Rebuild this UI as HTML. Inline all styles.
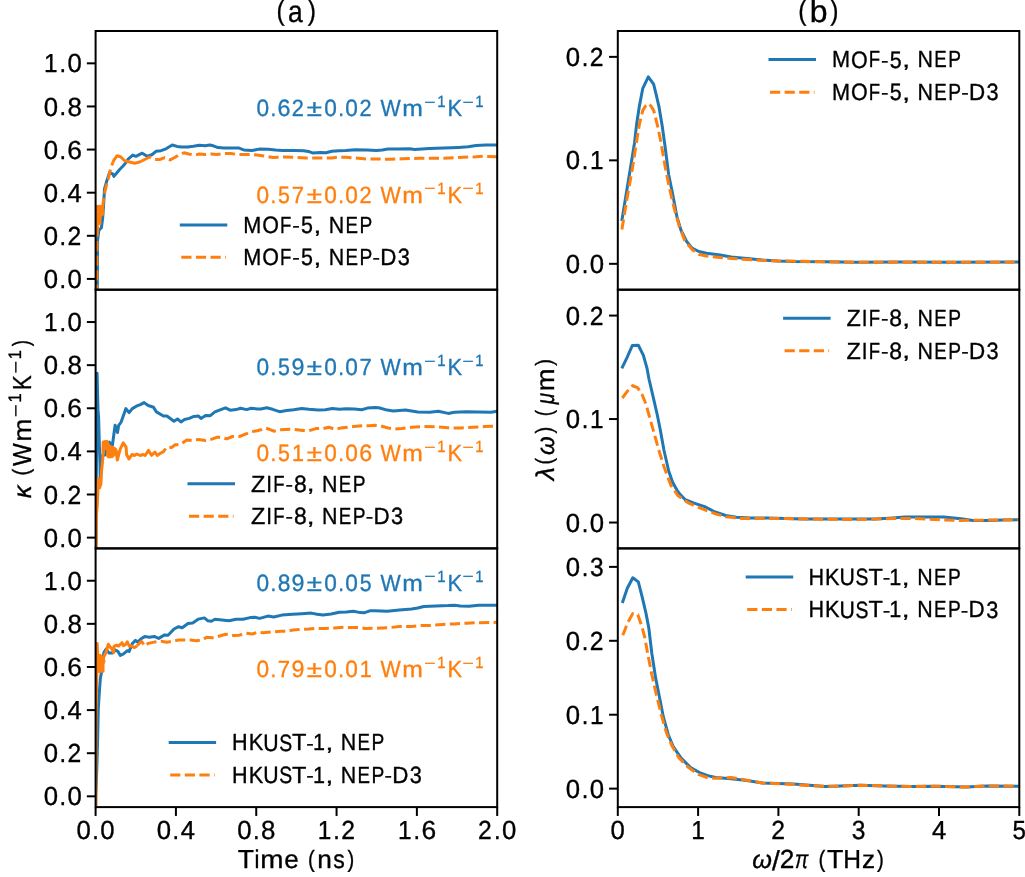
<!DOCTYPE html>
<html><head><meta charset="utf-8"><style>
html,body{margin:0;padding:0;background:#fff;}
body{width:1025px;height:877px;position:relative;overflow:hidden;font-family:"Liberation Sans",sans-serif;}
</style></head><body>
<svg width="1025" height="877" viewBox="0 0 1025 877" style="position:absolute;left:0;top:0;will-change:transform">
<defs>
<clipPath id="cl0"><rect x="95.6" y="31.0" width="401.6" height="258.7"/></clipPath>
<clipPath id="cr0"><rect x="617.8" y="31.0" width="401.5" height="258.7"/></clipPath>
<clipPath id="cl1"><rect x="95.6" y="289.7" width="401.6" height="258.7"/></clipPath>
<clipPath id="cr1"><rect x="617.8" y="289.7" width="401.5" height="258.7"/></clipPath>
<clipPath id="cl2"><rect x="95.6" y="548.4" width="401.6" height="258.7"/></clipPath>
<clipPath id="cr2"><rect x="617.8" y="548.4" width="401.5" height="258.7"/></clipPath>
</defs>
<rect width="1025" height="877" fill="#fff"/>
<g font-family="Liberation Sans, sans-serif" text-rendering="geometricPrecision">
<g clip-path="url(#cl0)">
<polyline points="97.3,295 97.6,240 98.9,230.3 101.4,227.8 102.7,217.8 103.9,200.2 104.5,188.9 107,180.2 109.6,172.6 112.7,173.9 113.9,176.4 116.5,173.3 119.6,169.5 123.3,165.7 125.9,162.6 128.4,158.8 132.8,155.1 135.9,156.3 142.2,153.2 147.2,156.3 152.2,154.5 156,151.3 161,150.7 166,148.8 172.3,145 177,146.4 181.7,147 187.6,147 193.4,146.2 199.3,145.2 205.1,145.8 209.8,145 213.3,145.8 218,147.6 223.9,147.9 230.9,148.1 239.1,148.1 243.8,149.9 252,150.5 259,149.1 268.4,149.3 275.4,150.1 282.4,150.5 294.4,150.5 303.7,150.8 308.4,151.4 313.1,153.1 320.1,152.5 326,152.8 331.8,151.3 338.9,150.8 345.9,150.5 355.3,149.7 367,150.1 376.3,150.5 382.2,149.9 388,149.1 397.4,149 409.8,148.7 414.6,149.5 429.3,148.5 443.9,148 458.5,147.4 468.3,146.8 476.1,145.6 485.9,145.1 497.2,145.1" fill="none" stroke="#1f77b4" stroke-width="3.0" stroke-linejoin="round" stroke-linecap="butt"/>
<polyline points="96.8,295 97,240 97.5,226 103,204.5 103.9,196.5 106.4,185.2 108.9,176.4 110.8,167.6 113,162.28" fill="none" stroke="#ff7f0e" stroke-width="3.0" stroke-linejoin="round" stroke-linecap="butt" stroke-dasharray="10.2 4.4"/>
<polyline points="113,162.28 113.9,160.1 117.1,155.7 120.8,157 124.6,160.7 129.6,162 134.6,163.2 139.6,162 142,160.82" fill="none" stroke="#ff7f0e" stroke-width="3.0" stroke-linejoin="round" stroke-linecap="butt"/>
<polyline points="142,160.82 144.7,159.5 149.7,157 154.7,159.5 159.7,159.5 164.7,157.6 170,159.9 174.7,157.5 179.4,154.6 184,152.8 188.7,154 194.6,155.2 199.3,154 205.1,154.6 211,154 216.8,154.6 223.9,153.4 230.9,153.4 237.9,154.6 244.9,154.6 252,154.6 259,155.2 266,156.3 273,157.5 280.1,157.3 285,156.9 295.5,157.5 306.1,157.9 320.1,158.1 331.8,158.1 337.7,157.2 345.9,157.2 352.9,157.8 361.1,158.5 367,159 378.7,159 390.4,159.3 402,158.8 419.5,158.3 439,158.3 453.7,157.8 468.3,157.1 476.1,156.8 482.9,156.3 497.2,156.8" fill="none" stroke="#ff7f0e" stroke-width="3.0" stroke-linejoin="round" stroke-linecap="butt" stroke-dasharray="10.2 4.4"/>
<polygon points="96.5,205.4 103.7,205.4 103.7,215 101,216 101,224.5 98,225 98,231 96.5,231" fill="#ff7f0e" stroke="#ff7f0e" stroke-width="1" stroke-linejoin="round"/>
</g>
<g clip-path="url(#cr0)">
<polyline points="621.8,221 627.1,188.5 632.4,156 634.5,143 636.7,123.4 639.4,106.1 642.8,88.3 648.3,76.9 653.6,84.2 656.3,95.1 658.9,106.3 662.2,126 664.8,144.5 668.6,174.2 672.8,194.7 676.9,216.6 681,230.3 686.5,241.2 692,248.1 698.8,251.5 706.6,253.3 720,254.9 731.2,256.9 746.8,258.4 762.4,260 778,260.9 793.7,261.4 824.9,261.7 856,262.2 900,262 950,262.2 1019.3,262" fill="none" stroke="#1f77b4" stroke-width="3.0" stroke-linejoin="round" stroke-linecap="butt"/>
<polyline points="621.9,229.5 627.1,198 632.4,168.5 636.7,140.7 639.4,124.3 642.8,110.4 645.5,106 648.3,103.6 651,106 653.8,110.8 657.2,124.3 660.5,140 665.3,167.4 669.4,187.9 674.2,208.4 679.7,227.6 685.1,241.2 692,249.4 698.8,254.2 706,256 720,257.6 731.2,258.4 746.8,259.5 762.4,260.4 778,260.9 856,262.2 1019.3,262.2" fill="none" stroke="#ff7f0e" stroke-width="3.0" stroke-linejoin="round" stroke-linecap="butt" stroke-dasharray="10.2 4.4"/>
</g>
<g clip-path="url(#cl1)">
<polyline points="95.9,560 96.3,480 96.9,400 97.1,373.3 97.6,395 98,409.4 98.6,417 99.3,442.9 100,465 100.2,481 101.2,470 102,455.7 105.2,454.9 106.4,449.3 109.2,442.1 112.4,445.3 114,433.3 115.1,425.3 117.5,432.5 118.7,425.3 121.1,422.1 123.1,416.5 125.9,408.6 129.1,412.6 132.3,408.6 136.3,406.2 140.3,404.6 144.1,402.6 148.2,405.5 153.5,407.2 156.4,411.9 163.4,416 166.9,416 174,421.3 177.5,419 181,421.9 184.5,419.5 189.2,418.4 193.9,416.4 198.5,416 200.9,418.4 205.6,415.4 210.3,415.7 214.9,411.9 220.8,409.6 225.5,407.8 230.2,410.2 236,409.6 240.7,408.2 246.6,409.6 251.2,408.2 257.1,409 260.9,409 266.7,407.8 272.6,409.3 279.6,411.7 286.6,410.5 293.6,409.7 301.8,408.5 308.9,409.3 318.2,410.1 325.3,409.7 332.3,408.5 339.3,409.3 346.3,408.7 354.5,409 361.6,409.7 367.4,408.1 375,407.5 378.7,407.7 387.2,410.1 393.3,411 405.5,410.1 417.7,412 429.9,412.3 438.4,411.3 448.2,413.4 454.3,412.3 466.5,411.7 478.7,412 490.9,412.2 497.2,411.3" fill="none" stroke="#1f77b4" stroke-width="3.0" stroke-linejoin="round" stroke-linecap="butt"/>
<polyline points="95.9,560 96.4,515 97.3,505 97.8,492.7 98.4,478.9 99.6,487.7 100.9,483.9 101.5,471.4 102.8,458.8 103.4,443.8 105,442 106.5,446 108,444 110,447 112,452 114,450 116.3,452.5 117.3,460 120.2,449.1 123.2,442.8 126.1,447.2 126.6,454.5 129,459 132,454.5 134.4,455.5 136.8,454 140.2,455.5 143.2,454.5 145.1,455.5 148.5,450.4 151.5,455.3 154.9,452.1 157.3,455.5 158,454.98" fill="none" stroke="#ff7f0e" stroke-width="3.0" stroke-linejoin="round" stroke-linecap="butt"/>
<polyline points="158,454.98 160,453.5 163.4,451.7 166.9,447.1 171.6,447.6 175.1,444.7 179.8,444.7 186.8,440 192.7,440.6 198.5,439.4 205.6,440.6 212.6,438.9 217.3,437.1 222,437.7 226.7,438.9 232.5,436.5 239.5,436.5 245.4,434.2 251.2,431.8 257.1,430.7 260.9,429.8 265.5,428.1 269.1,429.2 273.7,431.2 280.8,429.8 290.1,429.2 297.2,429.8 303,430.4 308.9,430.7 315.9,428.6 322.9,428.6 328.8,427.2 334.6,429.2 340.5,428.1 348.7,427.2 355.7,426.3 362.7,425.7 369.8,425.7 375,425.3 381.1,426 387.2,427.8 394.5,429 401.8,428.4 411.6,427.2 423.8,426.6 436,426.8 448.2,427.8 460.4,428 472.6,427.2 484.8,426.6 497.2,426.2" fill="none" stroke="#ff7f0e" stroke-width="3.0" stroke-linejoin="round" stroke-linecap="butt" stroke-dasharray="10.2 4.4"/>
<polygon points="102.2,441.2 107.5,440.3 108.6,442 108.3,446.5 109,445.5 113.5,446.5 116.5,448.5 117.5,451.5 116,454 113,457.5 109,458 106.8,457 106.8,450 104.5,449.5 104.3,453.5 102.3,453.5" fill="#ff7f0e" stroke="#ff7f0e" stroke-width="1" stroke-linejoin="round"/>
</g>
<g clip-path="url(#cr1)">
<polyline points="621.8,368.3 626.9,357.8 632.3,345.5 638.3,345.2 643.3,355.1 646.9,367.8 649.1,379.5 653.2,397.1 657.3,415 660.5,431 663.9,450 668.7,471 672.5,482 676.9,490 680,494.4 685.3,499.7 694,503.2 704.6,506.7 715.1,512 725.7,515.5 736.2,517.2 750.2,518.1 767.8,518.1 785.4,518.5 802.9,519 850,519.1 875.6,519.1 892.7,517.9 904.6,517.1 926.8,517.1 943.9,517.1 961,518.8 972.9,520.5 986.6,520.5 1003.7,520.1 1019.3,519.6" fill="none" stroke="#1f77b4" stroke-width="3.0" stroke-linejoin="round" stroke-linecap="butt"/>
<polyline points="622.3,398 627.8,390.7 632.8,385.6 637.8,387.9 642.4,395.2 646,404.3 648.8,414.4 652.7,428.2 658.4,448.7 664.1,467 670.9,485.3 677.8,495.5 688.8,503.2 701.1,508.4 715.1,513.7 725.7,516.7 741.5,518.5 759,518.6 785.4,518.6 850,519.5 875.6,519.1 892.7,518.4 909.8,518.4 926.8,519.1 943.9,520.1 961,520.5 986.6,520.1 1019.3,519.6" fill="none" stroke="#ff7f0e" stroke-width="3.0" stroke-linejoin="round" stroke-linecap="butt" stroke-dasharray="10.2 4.4"/>
</g>
<g clip-path="url(#cl2)">
<polyline points="95.7,815 95.8,796.4 96.9,765.5 97.7,737 98.3,708.5 99.5,690 100.4,677.9 102,669.9 102.4,660.3 104,652.3 106,649.2 109.2,653.1 112.4,653.1 115.5,650 118,651.5 120.3,655.5 123.5,653.9 127.5,650.7 129.1,651.5 132.3,643.6 135.5,640.4 137.5,642 141.1,638.8 144.7,636.6 149.4,637.2 154.1,636.4 158.7,638.4 164.6,634.9 168.1,635.2 174,629 178.6,626.7 182.2,627.8 188,623.5 192.7,623.1 198.5,619.1 204.4,617.9 207.9,620.8 211.4,621.2 214.9,619.3 222,620 229,620.8 236,619.3 243,619.3 250.1,617.6 254.8,617.3 259.7,618.4 267.9,616.1 273.7,617 281.9,615.1 292.5,614.3 301.8,613.7 311.2,613.1 317.1,614.3 322.9,615.1 331.1,614 339.3,612.3 346.3,612 353.4,611.2 360.4,612.6 363.9,612.8 369.8,610.8 375,610.8 387.2,611.3 399.4,609.9 411.6,608.9 417.7,608 423.8,606.5 436,606.1 448.2,605.6 454.3,605.2 460.4,605.9 468.9,606.2 478.7,605.2 497.2,605.2" fill="none" stroke="#1f77b4" stroke-width="3.0" stroke-linejoin="round" stroke-linecap="butt"/>
<polyline points="95.7,815 95.8,796.4 96,720 96.5,690 97.2,643.6 97.8,660 100,655.4 102.9,658.8 106.3,651.5 108.3,644.2 109.8,646.6 111.7,648.6 113.7,652.5 114.1,646.1 116.6,645.2 118.5,646.1 120.5,644.2 122,642.7 123.4,645.7 125.4,644.7 127.3,641.8 129.3,646.1 131.2,645.7 134.1,647.6 136.1,646.6 137,645.7" fill="none" stroke="#ff7f0e" stroke-width="3.0" stroke-linejoin="round" stroke-linecap="butt"/>
<polyline points="137,645.7 139,643.7 141.5,641.3 144.9,646.1 147.8,643.7 149.4,643.1 155.2,641.9 161.1,641.3 166.9,642.2 172.8,641.3 178.6,639.9 184.5,639.9 190.4,640.1 196.2,640.7 202.1,639.9 206.7,637.2 212.6,637.8 219.6,636 225.5,634.3 233.7,635.4 239.5,635.2 245.4,633.1 252.4,634 257.3,632.2 263.2,632.7 272.6,631.9 280.8,631.3 286.6,631.3 293.6,629.9 301.8,629.2 308.9,629 317.1,628.4 325.3,628.4 334.6,628 344,627.2 352.2,627.6 358,627.6 365.1,628.4 375,628.2 387.2,627.8 399.4,626.6 411.6,626.6 421.3,625.6 429.9,625.4 442.1,624.5 454.3,623.9 466.5,623.2 478.7,622.7 497.2,622.3" fill="none" stroke="#ff7f0e" stroke-width="3.0" stroke-linejoin="round" stroke-linecap="butt" stroke-dasharray="10.2 4.4"/>
<polygon points="97,655 100.5,654.5 102,656 104,657.5 105,661 104,664 104,672 99,672.5 97,672" fill="#ff7f0e" stroke="#ff7f0e" stroke-width="1" stroke-linejoin="round"/>
</g>
<g clip-path="url(#cr2)">
<polyline points="622.3,602.9 627.3,588.3 632.8,577.8 638.3,581.9 642.4,597.8 646,613.4 648.8,628 651.8,653.3 655.7,678.4 659.6,697.8 663.4,717.2 668.3,734.7 673.1,746.3 680.9,757.9 690.6,767.6 700.3,773 707.8,775.6 715.6,777.5 731.2,778.7 746.8,780.6 762.4,783 778,783.4 793.7,784 809.3,785.3 824.9,786.4 840.5,786.1 860,785.3 884.1,785.9 909.8,786.6 935.4,786.2 966.1,787.1 986.6,785.9 1019.3,786.2" fill="none" stroke="#1f77b4" stroke-width="3.0" stroke-linejoin="round" stroke-linecap="butt"/>
<polyline points="622.8,635.3 627.8,622.5 632.8,613.4 637.8,614.7 641.5,625.2 644.7,637.1 648,655.2 651.8,674.6 656.7,695.9 661.5,715.3 666.4,732.7 672.2,746.3 679,757.9 688.6,767.6 698.3,774.4 707.8,777.8 715.6,778.3 731.2,777.5 746.8,780.3 762.4,783 778,783.7 793.7,784.5 809.3,785.6 824.9,786.4 840.5,786.1 860,785.3 884.1,785.9 909.8,786.6 935.4,786.2 966.1,787.1 986.6,785.9 1019.3,786.2" fill="none" stroke="#ff7f0e" stroke-width="3.0" stroke-linejoin="round" stroke-linecap="butt" stroke-dasharray="10.2 4.4"/>
</g>
<rect x="95.6" y="31" width="401.6" height="258.7" fill="none" stroke="#000" stroke-width="2"/>
<rect x="617.8" y="31" width="401.5" height="258.7" fill="none" stroke="#000" stroke-width="2"/>
<rect x="95.6" y="289.7" width="401.6" height="258.7" fill="none" stroke="#000" stroke-width="2"/>
<rect x="617.8" y="289.7" width="401.5" height="258.7" fill="none" stroke="#000" stroke-width="2"/>
<rect x="95.6" y="548.4" width="401.6" height="258.7" fill="none" stroke="#000" stroke-width="2"/>
<rect x="617.8" y="548.4" width="401.5" height="258.7" fill="none" stroke="#000" stroke-width="2"/>
<line x1="86.85" y1="278.92" x2="95.6" y2="278.92" stroke="#000" stroke-width="2"/>
<text transform="translate(43.66,288.06) scale(0.9709,0.9916)" font-size="26.5" fill="#000" stroke="#000" stroke-width="0.35" style="">0</text>
<text transform="translate(59.45,287.95) scale(0.8933,0.9767)" font-size="26.5" fill="#000" stroke="#000" stroke-width="0.35" style="">.</text>
<text transform="translate(67.51,288.06) scale(0.9709,0.9916)" font-size="26.5" fill="#000" stroke="#000" stroke-width="0.35" style="">0</text>
<line x1="86.85" y1="235.8" x2="95.6" y2="235.8" stroke="#000" stroke-width="2"/>
<text transform="translate(43.66,244.94) scale(0.9709,0.9916)" font-size="26.5" fill="#000" stroke="#000" stroke-width="0.35" style="">0</text>
<text transform="translate(59.45,244.83) scale(0.8933,0.9767)" font-size="26.5" fill="#000" stroke="#000" stroke-width="0.35" style="">.</text>
<text transform="translate(67.48,244.83) scale(0.9319,0.9856)" font-size="26.5" fill="#000" stroke="#000" stroke-width="0.35" style="">2</text>
<line x1="86.85" y1="192.69" x2="95.6" y2="192.69" stroke="#000" stroke-width="2"/>
<text transform="translate(43.66,201.83) scale(0.9709,0.9916)" font-size="26.5" fill="#000" stroke="#000" stroke-width="0.35" style="">0</text>
<text transform="translate(59.45,201.72) scale(0.8933,0.9767)" font-size="26.5" fill="#000" stroke="#000" stroke-width="0.35" style="">.</text>
<text transform="translate(67.59,201.72) scale(0.9649,0.9828)" font-size="26.5" fill="#000" stroke="#000" stroke-width="0.35" style="">4</text>
<line x1="86.85" y1="149.57" x2="95.6" y2="149.57" stroke="#000" stroke-width="2"/>
<text transform="translate(43.66,158.71) scale(0.9709,0.9916)" font-size="26.5" fill="#000" stroke="#000" stroke-width="0.35" style="">0</text>
<text transform="translate(59.45,158.6) scale(0.8933,0.9767)" font-size="26.5" fill="#000" stroke="#000" stroke-width="0.35" style="">.</text>
<text transform="translate(67.35,158.71) scale(0.9965,0.9916)" font-size="26.5" fill="#000" stroke="#000" stroke-width="0.35" style="">6</text>
<line x1="86.85" y1="106.45" x2="95.6" y2="106.45" stroke="#000" stroke-width="2"/>
<text transform="translate(43.66,115.59) scale(0.9709,0.9916)" font-size="26.5" fill="#000" stroke="#000" stroke-width="0.35" style="">0</text>
<text transform="translate(59.45,115.48) scale(0.8933,0.9767)" font-size="26.5" fill="#000" stroke="#000" stroke-width="0.35" style="">.</text>
<text transform="translate(67.5,115.59) scale(0.9762,0.9916)" font-size="26.5" fill="#000" stroke="#000" stroke-width="0.35" style="">8</text>
<line x1="86.85" y1="63.34" x2="95.6" y2="63.34" stroke="#000" stroke-width="2"/>
<text transform="translate(43.97,72.37) scale(0.9207,0.9828)" font-size="26.5" fill="#000" stroke="#000" stroke-width="0.35" style="">1</text>
<text transform="translate(59.45,72.37) scale(0.8933,0.9767)" font-size="26.5" fill="#000" stroke="#000" stroke-width="0.35" style="">.</text>
<text transform="translate(67.51,72.48) scale(0.9709,0.9916)" font-size="26.5" fill="#000" stroke="#000" stroke-width="0.35" style="">0</text>
<line x1="86.85" y1="537.62" x2="95.6" y2="537.62" stroke="#000" stroke-width="2"/>
<text transform="translate(43.66,546.76) scale(0.9709,0.9916)" font-size="26.5" fill="#000" stroke="#000" stroke-width="0.35" style="">0</text>
<text transform="translate(59.45,546.65) scale(0.8933,0.9767)" font-size="26.5" fill="#000" stroke="#000" stroke-width="0.35" style="">.</text>
<text transform="translate(67.51,546.76) scale(0.9709,0.9916)" font-size="26.5" fill="#000" stroke="#000" stroke-width="0.35" style="">0</text>
<line x1="86.85" y1="494.5" x2="95.6" y2="494.5" stroke="#000" stroke-width="2"/>
<text transform="translate(43.66,503.64) scale(0.9709,0.9916)" font-size="26.5" fill="#000" stroke="#000" stroke-width="0.35" style="">0</text>
<text transform="translate(59.45,503.53) scale(0.8933,0.9767)" font-size="26.5" fill="#000" stroke="#000" stroke-width="0.35" style="">.</text>
<text transform="translate(67.48,503.53) scale(0.9319,0.9856)" font-size="26.5" fill="#000" stroke="#000" stroke-width="0.35" style="">2</text>
<line x1="86.85" y1="451.39" x2="95.6" y2="451.39" stroke="#000" stroke-width="2"/>
<text transform="translate(43.66,460.53) scale(0.9709,0.9916)" font-size="26.5" fill="#000" stroke="#000" stroke-width="0.35" style="">0</text>
<text transform="translate(59.45,460.42) scale(0.8933,0.9767)" font-size="26.5" fill="#000" stroke="#000" stroke-width="0.35" style="">.</text>
<text transform="translate(67.59,460.42) scale(0.9649,0.9828)" font-size="26.5" fill="#000" stroke="#000" stroke-width="0.35" style="">4</text>
<line x1="86.85" y1="408.27" x2="95.6" y2="408.27" stroke="#000" stroke-width="2"/>
<text transform="translate(43.66,417.41) scale(0.9709,0.9916)" font-size="26.5" fill="#000" stroke="#000" stroke-width="0.35" style="">0</text>
<text transform="translate(59.45,417.3) scale(0.8933,0.9767)" font-size="26.5" fill="#000" stroke="#000" stroke-width="0.35" style="">.</text>
<text transform="translate(67.35,417.41) scale(0.9965,0.9916)" font-size="26.5" fill="#000" stroke="#000" stroke-width="0.35" style="">6</text>
<line x1="86.85" y1="365.15" x2="95.6" y2="365.15" stroke="#000" stroke-width="2"/>
<text transform="translate(43.66,374.29) scale(0.9709,0.9916)" font-size="26.5" fill="#000" stroke="#000" stroke-width="0.35" style="">0</text>
<text transform="translate(59.45,374.18) scale(0.8933,0.9767)" font-size="26.5" fill="#000" stroke="#000" stroke-width="0.35" style="">.</text>
<text transform="translate(67.5,374.29) scale(0.9762,0.9916)" font-size="26.5" fill="#000" stroke="#000" stroke-width="0.35" style="">8</text>
<line x1="86.85" y1="322.04" x2="95.6" y2="322.04" stroke="#000" stroke-width="2"/>
<text transform="translate(43.97,331.07) scale(0.9207,0.9828)" font-size="26.5" fill="#000" stroke="#000" stroke-width="0.35" style="">1</text>
<text transform="translate(59.45,331.07) scale(0.8933,0.9767)" font-size="26.5" fill="#000" stroke="#000" stroke-width="0.35" style="">.</text>
<text transform="translate(67.51,331.18) scale(0.9709,0.9916)" font-size="26.5" fill="#000" stroke="#000" stroke-width="0.35" style="">0</text>
<line x1="86.85" y1="796.32" x2="95.6" y2="796.32" stroke="#000" stroke-width="2"/>
<text transform="translate(43.66,805.46) scale(0.9709,0.9916)" font-size="26.5" fill="#000" stroke="#000" stroke-width="0.35" style="">0</text>
<text transform="translate(59.45,805.35) scale(0.8933,0.9767)" font-size="26.5" fill="#000" stroke="#000" stroke-width="0.35" style="">.</text>
<text transform="translate(67.51,805.46) scale(0.9709,0.9916)" font-size="26.5" fill="#000" stroke="#000" stroke-width="0.35" style="">0</text>
<line x1="86.85" y1="753.2" x2="95.6" y2="753.2" stroke="#000" stroke-width="2"/>
<text transform="translate(43.66,762.34) scale(0.9709,0.9916)" font-size="26.5" fill="#000" stroke="#000" stroke-width="0.35" style="">0</text>
<text transform="translate(59.45,762.23) scale(0.8933,0.9767)" font-size="26.5" fill="#000" stroke="#000" stroke-width="0.35" style="">.</text>
<text transform="translate(67.48,762.23) scale(0.9319,0.9856)" font-size="26.5" fill="#000" stroke="#000" stroke-width="0.35" style="">2</text>
<line x1="86.85" y1="710.09" x2="95.6" y2="710.09" stroke="#000" stroke-width="2"/>
<text transform="translate(43.66,719.23) scale(0.9709,0.9916)" font-size="26.5" fill="#000" stroke="#000" stroke-width="0.35" style="">0</text>
<text transform="translate(59.45,719.12) scale(0.8933,0.9767)" font-size="26.5" fill="#000" stroke="#000" stroke-width="0.35" style="">.</text>
<text transform="translate(67.59,719.12) scale(0.9649,0.9828)" font-size="26.5" fill="#000" stroke="#000" stroke-width="0.35" style="">4</text>
<line x1="86.85" y1="666.97" x2="95.6" y2="666.97" stroke="#000" stroke-width="2"/>
<text transform="translate(43.66,676.11) scale(0.9709,0.9916)" font-size="26.5" fill="#000" stroke="#000" stroke-width="0.35" style="">0</text>
<text transform="translate(59.45,676) scale(0.8933,0.9767)" font-size="26.5" fill="#000" stroke="#000" stroke-width="0.35" style="">.</text>
<text transform="translate(67.35,676.11) scale(0.9965,0.9916)" font-size="26.5" fill="#000" stroke="#000" stroke-width="0.35" style="">6</text>
<line x1="86.85" y1="623.85" x2="95.6" y2="623.85" stroke="#000" stroke-width="2"/>
<text transform="translate(43.66,632.99) scale(0.9709,0.9916)" font-size="26.5" fill="#000" stroke="#000" stroke-width="0.35" style="">0</text>
<text transform="translate(59.45,632.88) scale(0.8933,0.9767)" font-size="26.5" fill="#000" stroke="#000" stroke-width="0.35" style="">.</text>
<text transform="translate(67.5,632.99) scale(0.9762,0.9916)" font-size="26.5" fill="#000" stroke="#000" stroke-width="0.35" style="">8</text>
<line x1="86.85" y1="580.74" x2="95.6" y2="580.74" stroke="#000" stroke-width="2"/>
<text transform="translate(43.97,589.77) scale(0.9207,0.9828)" font-size="26.5" fill="#000" stroke="#000" stroke-width="0.35" style="">1</text>
<text transform="translate(59.45,589.77) scale(0.8933,0.9767)" font-size="26.5" fill="#000" stroke="#000" stroke-width="0.35" style="">.</text>
<text transform="translate(67.51,589.88) scale(0.9709,0.9916)" font-size="26.5" fill="#000" stroke="#000" stroke-width="0.35" style="">0</text>
<line x1="609.05" y1="263.83" x2="617.8" y2="263.83" stroke="#000" stroke-width="2"/>
<text transform="translate(565.86,272.97) scale(0.9709,0.9916)" font-size="26.5" fill="#000" stroke="#000" stroke-width="0.35" style="">0</text>
<text transform="translate(581.65,272.86) scale(0.8933,0.9767)" font-size="26.5" fill="#000" stroke="#000" stroke-width="0.35" style="">.</text>
<text transform="translate(589.71,272.97) scale(0.9709,0.9916)" font-size="26.5" fill="#000" stroke="#000" stroke-width="0.35" style="">0</text>
<line x1="609.05" y1="160.35" x2="617.8" y2="160.35" stroke="#000" stroke-width="2"/>
<text transform="translate(565.86,169.49) scale(0.9709,0.9916)" font-size="26.5" fill="#000" stroke="#000" stroke-width="0.35" style="">0</text>
<text transform="translate(581.65,169.38) scale(0.8933,0.9767)" font-size="26.5" fill="#000" stroke="#000" stroke-width="0.35" style="">.</text>
<text transform="translate(590.02,169.38) scale(0.9207,0.9828)" font-size="26.5" fill="#000" stroke="#000" stroke-width="0.35" style="">1</text>
<line x1="609.05" y1="56.87" x2="617.8" y2="56.87" stroke="#000" stroke-width="2"/>
<text transform="translate(565.86,66.01) scale(0.9709,0.9916)" font-size="26.5" fill="#000" stroke="#000" stroke-width="0.35" style="">0</text>
<text transform="translate(581.65,65.9) scale(0.8933,0.9767)" font-size="26.5" fill="#000" stroke="#000" stroke-width="0.35" style="">.</text>
<text transform="translate(589.68,65.9) scale(0.9319,0.9856)" font-size="26.5" fill="#000" stroke="#000" stroke-width="0.35" style="">2</text>
<line x1="609.05" y1="522.53" x2="617.8" y2="522.53" stroke="#000" stroke-width="2"/>
<text transform="translate(565.86,531.67) scale(0.9709,0.9916)" font-size="26.5" fill="#000" stroke="#000" stroke-width="0.35" style="">0</text>
<text transform="translate(581.65,531.56) scale(0.8933,0.9767)" font-size="26.5" fill="#000" stroke="#000" stroke-width="0.35" style="">.</text>
<text transform="translate(589.71,531.67) scale(0.9709,0.9916)" font-size="26.5" fill="#000" stroke="#000" stroke-width="0.35" style="">0</text>
<line x1="609.05" y1="419.05" x2="617.8" y2="419.05" stroke="#000" stroke-width="2"/>
<text transform="translate(565.86,428.19) scale(0.9709,0.9916)" font-size="26.5" fill="#000" stroke="#000" stroke-width="0.35" style="">0</text>
<text transform="translate(581.65,428.08) scale(0.8933,0.9767)" font-size="26.5" fill="#000" stroke="#000" stroke-width="0.35" style="">.</text>
<text transform="translate(590.02,428.08) scale(0.9207,0.9828)" font-size="26.5" fill="#000" stroke="#000" stroke-width="0.35" style="">1</text>
<line x1="609.05" y1="315.57" x2="617.8" y2="315.57" stroke="#000" stroke-width="2"/>
<text transform="translate(565.86,324.71) scale(0.9709,0.9916)" font-size="26.5" fill="#000" stroke="#000" stroke-width="0.35" style="">0</text>
<text transform="translate(581.65,324.6) scale(0.8933,0.9767)" font-size="26.5" fill="#000" stroke="#000" stroke-width="0.35" style="">.</text>
<text transform="translate(589.68,324.6) scale(0.9319,0.9856)" font-size="26.5" fill="#000" stroke="#000" stroke-width="0.35" style="">2</text>
<line x1="609.05" y1="788.62" x2="617.8" y2="788.62" stroke="#000" stroke-width="2"/>
<text transform="translate(565.86,797.76) scale(0.9709,0.9916)" font-size="26.5" fill="#000" stroke="#000" stroke-width="0.35" style="">0</text>
<text transform="translate(581.65,797.65) scale(0.8933,0.9767)" font-size="26.5" fill="#000" stroke="#000" stroke-width="0.35" style="">.</text>
<text transform="translate(589.71,797.76) scale(0.9709,0.9916)" font-size="26.5" fill="#000" stroke="#000" stroke-width="0.35" style="">0</text>
<line x1="609.05" y1="714.71" x2="617.8" y2="714.71" stroke="#000" stroke-width="2"/>
<text transform="translate(565.86,723.85) scale(0.9709,0.9916)" font-size="26.5" fill="#000" stroke="#000" stroke-width="0.35" style="">0</text>
<text transform="translate(581.65,723.74) scale(0.8933,0.9767)" font-size="26.5" fill="#000" stroke="#000" stroke-width="0.35" style="">.</text>
<text transform="translate(590.02,723.74) scale(0.9207,0.9828)" font-size="26.5" fill="#000" stroke="#000" stroke-width="0.35" style="">1</text>
<line x1="609.05" y1="640.79" x2="617.8" y2="640.79" stroke="#000" stroke-width="2"/>
<text transform="translate(565.86,649.93) scale(0.9709,0.9916)" font-size="26.5" fill="#000" stroke="#000" stroke-width="0.35" style="">0</text>
<text transform="translate(581.65,649.82) scale(0.8933,0.9767)" font-size="26.5" fill="#000" stroke="#000" stroke-width="0.35" style="">.</text>
<text transform="translate(589.68,649.82) scale(0.9319,0.9856)" font-size="26.5" fill="#000" stroke="#000" stroke-width="0.35" style="">2</text>
<line x1="609.05" y1="566.88" x2="617.8" y2="566.88" stroke="#000" stroke-width="2"/>
<text transform="translate(565.86,576.02) scale(0.9709,0.9916)" font-size="26.5" fill="#000" stroke="#000" stroke-width="0.35" style="">0</text>
<text transform="translate(581.65,575.91) scale(0.8933,0.9767)" font-size="26.5" fill="#000" stroke="#000" stroke-width="0.35" style="">.</text>
<text transform="translate(590.06,576.02) scale(0.9275,0.9916)" font-size="26.5" fill="#000" stroke="#000" stroke-width="0.35" style="">3</text>
<line x1="95.6" y1="807.2" x2="95.6" y2="815.95" stroke="#000" stroke-width="2"/>
<text transform="translate(76.49,839.14) scale(0.9709,0.9916)" font-size="26.5" fill="#000" stroke="#000" stroke-width="0.35" style="">0</text>
<text transform="translate(92.28,839.03) scale(0.8933,0.9767)" font-size="26.5" fill="#000" stroke="#000" stroke-width="0.35" style="">.</text>
<text transform="translate(100.34,839.14) scale(0.9709,0.9916)" font-size="26.5" fill="#000" stroke="#000" stroke-width="0.35" style="">0</text>
<line x1="175.92" y1="807.2" x2="175.92" y2="815.95" stroke="#000" stroke-width="2"/>
<text transform="translate(156.81,839.14) scale(0.9709,0.9916)" font-size="26.5" fill="#000" stroke="#000" stroke-width="0.35" style="">0</text>
<text transform="translate(172.6,839.03) scale(0.8933,0.9767)" font-size="26.5" fill="#000" stroke="#000" stroke-width="0.35" style="">.</text>
<text transform="translate(180.74,839.03) scale(0.9649,0.9828)" font-size="26.5" fill="#000" stroke="#000" stroke-width="0.35" style="">4</text>
<line x1="256.24" y1="807.2" x2="256.24" y2="815.95" stroke="#000" stroke-width="2"/>
<text transform="translate(237.13,839.14) scale(0.9709,0.9916)" font-size="26.5" fill="#000" stroke="#000" stroke-width="0.35" style="">0</text>
<text transform="translate(252.92,839.03) scale(0.8933,0.9767)" font-size="26.5" fill="#000" stroke="#000" stroke-width="0.35" style="">.</text>
<text transform="translate(260.97,839.14) scale(0.9762,0.9916)" font-size="26.5" fill="#000" stroke="#000" stroke-width="0.35" style="">8</text>
<line x1="336.56" y1="807.2" x2="336.56" y2="815.95" stroke="#000" stroke-width="2"/>
<text transform="translate(317.76,839.03) scale(0.9207,0.9828)" font-size="26.5" fill="#000" stroke="#000" stroke-width="0.35" style="">1</text>
<text transform="translate(333.24,839.03) scale(0.8933,0.9767)" font-size="26.5" fill="#000" stroke="#000" stroke-width="0.35" style="">.</text>
<text transform="translate(341.27,839.03) scale(0.9319,0.9856)" font-size="26.5" fill="#000" stroke="#000" stroke-width="0.35" style="">2</text>
<line x1="416.88" y1="807.2" x2="416.88" y2="815.95" stroke="#000" stroke-width="2"/>
<text transform="translate(398.08,839.03) scale(0.9207,0.9828)" font-size="26.5" fill="#000" stroke="#000" stroke-width="0.35" style="">1</text>
<text transform="translate(413.56,839.03) scale(0.8933,0.9767)" font-size="26.5" fill="#000" stroke="#000" stroke-width="0.35" style="">.</text>
<text transform="translate(421.46,839.14) scale(0.9965,0.9916)" font-size="26.5" fill="#000" stroke="#000" stroke-width="0.35" style="">6</text>
<line x1="497.2" y1="807.2" x2="497.2" y2="815.95" stroke="#000" stroke-width="2"/>
<text transform="translate(478.06,839.03) scale(0.9319,0.9856)" font-size="26.5" fill="#000" stroke="#000" stroke-width="0.35" style="">2</text>
<text transform="translate(493.88,839.03) scale(0.8933,0.9767)" font-size="26.5" fill="#000" stroke="#000" stroke-width="0.35" style="">.</text>
<text transform="translate(501.94,839.14) scale(0.9709,0.9916)" font-size="26.5" fill="#000" stroke="#000" stroke-width="0.35" style="">0</text>
<line x1="617.8" y1="807.2" x2="617.8" y2="815.95" stroke="#000" stroke-width="2"/>
<text transform="translate(610.61,839.14) scale(0.9709,0.9916)" font-size="26.5" fill="#000" stroke="#000" stroke-width="0.35" style="">0</text>
<line x1="698.1" y1="807.2" x2="698.1" y2="815.95" stroke="#000" stroke-width="2"/>
<text transform="translate(691.23,839.03) scale(0.9207,0.9828)" font-size="26.5" fill="#000" stroke="#000" stroke-width="0.35" style="">1</text>
<line x1="778.4" y1="807.2" x2="778.4" y2="815.95" stroke="#000" stroke-width="2"/>
<text transform="translate(771.19,839.03) scale(0.9319,0.9856)" font-size="26.5" fill="#000" stroke="#000" stroke-width="0.35" style="">2</text>
<line x1="858.7" y1="807.2" x2="858.7" y2="815.95" stroke="#000" stroke-width="2"/>
<text transform="translate(851.86,839.14) scale(0.9275,0.9916)" font-size="26.5" fill="#000" stroke="#000" stroke-width="0.35" style="">3</text>
<line x1="939" y1="807.2" x2="939" y2="815.95" stroke="#000" stroke-width="2"/>
<text transform="translate(931.89,839.03) scale(0.9649,0.9828)" font-size="26.5" fill="#000" stroke="#000" stroke-width="0.35" style="">4</text>
<line x1="1019.3" y1="807.2" x2="1019.3" y2="815.95" stroke="#000" stroke-width="2"/>
<text transform="translate(1012.48,839.14) scale(0.9130,0.9889)" font-size="26.5" fill="#000" stroke="#000" stroke-width="0.35" style="">5</text>
<text transform="translate(276.6,20.32) scale(0.7813,0.8983)" font-size="31.5" fill="#000" stroke="#000" stroke-width="0.35" style="">(</text>
<text transform="translate(287.95,22.42) scale(0.8392,0.9803)" font-size="31.5" fill="#000" stroke="#000" stroke-width="0.35" style="">a</text>
<text transform="translate(307.82,20.32) scale(0.7813,0.8983)" font-size="31.5" fill="#000" stroke="#000" stroke-width="0.35" style="">)</text>
<text transform="translate(798.29,20.37) scale(0.7843,0.8983)" font-size="31.5" fill="#000" stroke="#000" stroke-width="0.35" style="">(</text>
<text transform="translate(809.67,22.47) scale(1.0135,0.9893)" font-size="31.5" fill="#000" stroke="#000" stroke-width="0.35" style="">b</text>
<text transform="translate(830.29,20.37) scale(0.7843,0.8983)" font-size="31.5" fill="#000" stroke="#000" stroke-width="0.35" style="">)</text>
<text transform="translate(237.78,868.23) scale(1.0019,0.9828)" font-size="26.5" fill="#000" stroke="#000" stroke-width="0.35" style="">T</text>
<text transform="translate(254.46,868.23) scale(0.8380,0.9712)" font-size="26.5" fill="#000" stroke="#000" stroke-width="0.35" style="">i</text>
<text transform="translate(260.13,868.23) scale(1.0523,0.9593)" font-size="26.5" fill="#000" stroke="#000" stroke-width="0.35" style="">m</text>
<text transform="translate(284.24,868.35) scale(0.9853,0.9674)" font-size="26.5" fill="#000" stroke="#000" stroke-width="0.35" style="">e</text>
<text transform="translate(307.99,866.61) scale(0.7656,0.8878)" font-size="26.5" fill="#000" stroke="#000" stroke-width="0.35" style="">(</text>
<text transform="translate(317.35,868.23) scale(0.9905,0.9593)" font-size="26.5" fill="#000" stroke="#000" stroke-width="0.35" style="">n</text>
<text transform="translate(333.35,868.35) scale(0.8690,0.9674)" font-size="26.5" fill="#000" stroke="#000" stroke-width="0.35" style="">s</text>
<text transform="translate(347.39,866.61) scale(0.7656,0.8878)" font-size="26.5" fill="#000" stroke="#000" stroke-width="0.35" style="">)</text>
<text transform="translate(752.15,868.26) scale(0.9535,0.9464)" font-size="26.5" fill="#000" stroke="#000" stroke-width="0.35" style="font-style:italic;">ω</text>
<text transform="translate(772.09,870.16) scale(1.0644,1.0371)" font-size="26.5" fill="#000" stroke="#000" stroke-width="0.35" style="">/</text>
<text transform="translate(779.66,868.13) scale(0.9913,0.9856)" font-size="26.5" fill="#000" stroke="#000" stroke-width="0.35" style="">2</text>
<text transform="translate(795.04,868.37) scale(0.7510,0.9722)" font-size="26.5" fill="#000" stroke="#000" stroke-width="0.35" style="font-style:italic;">π</text>
<text transform="translate(818.55,866.51) scale(0.7755,0.8878)" font-size="26.5" fill="#000" stroke="#000" stroke-width="0.35" style="">(</text>
<text transform="translate(826.89,868.13) scale(1.0148,0.9828)" font-size="26.5" fill="#000" stroke="#000" stroke-width="0.35" style="">T</text>
<text transform="translate(843.35,868.13) scale(0.9282,0.9828)" font-size="26.5" fill="#000" stroke="#000" stroke-width="0.35" style="">H</text>
<text transform="translate(861.9,868.13) scale(0.9879,0.9552)" font-size="26.5" fill="#000" stroke="#000" stroke-width="0.35" style="">z</text>
<text transform="translate(876.92,866.51) scale(0.7755,0.8878)" font-size="26.5" fill="#000" stroke="#000" stroke-width="0.35" style="">)</text>
<g transform="translate(31.0,419.0) rotate(-90)">
<text transform="translate(-79.28,-0.17) scale(0.9650,0.9552)" font-size="26.5" fill="#000" stroke="#000" stroke-width="0.35" style="font-style:italic;">κ</text>
<text transform="translate(-56.43,-1.79) scale(0.7629,0.8878)" font-size="26.5" fill="#000" stroke="#000" stroke-width="0.35" style="">(</text>
<text transform="translate(-46.9,-0.17) scale(0.9094,0.9828)" font-size="26.5" fill="#000" stroke="#000" stroke-width="0.35" style="">W</text>
<text transform="translate(-22.71,-0.17) scale(1.0485,0.9593)" font-size="26.5" fill="#000" stroke="#000" stroke-width="0.35" style="">m</text>
<text transform="translate(2.03,-9.89) scale(1.1641,0.8497)" font-size="18.5" fill="#000" stroke="#000" stroke-width="0.35" style="">−</text>
<text transform="translate(16.38,-9.77) scale(0.9008,0.9775)" font-size="18.5" fill="#000" stroke="#000" stroke-width="0.35" style="">1</text>
<text transform="translate(28.93,-0.17) scale(0.8311,0.9828)" font-size="26.5" fill="#000" stroke="#000" stroke-width="0.35" style="">K</text>
<text transform="translate(45.65,-9.89) scale(1.1377,0.8497)" font-size="18.5" fill="#000" stroke="#000" stroke-width="0.35" style="">−</text>
<text transform="translate(59.68,-9.77) scale(0.8804,0.9775)" font-size="18.5" fill="#000" stroke="#000" stroke-width="0.35" style="">1</text>
<text transform="translate(72.68,-1.79) scale(0.6980,0.8878)" font-size="26.5" fill="#000" stroke="#000" stroke-width="0.35" style="">)</text>
</g>
<g transform="translate(553.9,419.0) rotate(-90)">
<text transform="translate(-61.33,-0.17) scale(0.9998,0.9712)" font-size="26.5" fill="#000" stroke="#000" stroke-width="0.35" style="font-style:italic;">λ</text>
<text transform="translate(-45.42,-1.79) scale(0.7528,0.8878)" font-size="26.5" fill="#000" stroke="#000" stroke-width="0.35" style="">(</text>
<text transform="translate(-35.92,-0.04) scale(0.9069,0.9464)" font-size="26.5" fill="#000" stroke="#000" stroke-width="0.35" style="font-style:italic;">ω</text>
<text transform="translate(-14.42,-1.79) scale(0.7665,0.8878)" font-size="26.5" fill="#000" stroke="#000" stroke-width="0.35" style="">)</text>
<text transform="translate(2.65,-1.79) scale(0.7117,0.8878)" font-size="26.5" fill="#000" stroke="#000" stroke-width="0.35" style="">(</text>
<text transform="translate(14.65,0.06) scale(0.7738,0.9714)" font-size="26.5" fill="#000" stroke="#000" stroke-width="0.35" style="font-style:italic;">μ</text>
<text transform="translate(27.64,-0.17) scale(1.0317,0.9593)" font-size="26.5" fill="#000" stroke="#000" stroke-width="0.35" style="">m</text>
<text transform="translate(53.18,-1.79) scale(0.7665,0.8878)" font-size="26.5" fill="#000" stroke="#000" stroke-width="0.35" style="">)</text>
</g>
<text transform="translate(256.56,116.23) scale(0.9505,0.9895)" font-size="23.85" fill="#1f77b4" stroke="#1f77b4" stroke-width="0.35" style="">0</text>
<text transform="translate(270.54,116.13) scale(0.8653,0.9649)" font-size="23.85" fill="#1f77b4" stroke="#1f77b4" stroke-width="0.35" style="">.</text>
<text transform="translate(277.5,116.23) scale(0.9755,0.9895)" font-size="23.85" fill="#1f77b4" stroke="#1f77b4" stroke-width="0.35" style="">6</text>
<text transform="translate(291.68,116.13) scale(0.9122,0.9836)" font-size="23.85" fill="#1f77b4" stroke="#1f77b4" stroke-width="0.35" style="">2</text>
<text transform="translate(306.68,116.13) scale(1.1633,0.9710)" font-size="23.85" fill="#1f77b4" stroke="#1f77b4" stroke-width="0.35" style="">±</text>
<text transform="translate(324.27,116.23) scale(0.9505,0.9895)" font-size="23.85" fill="#1f77b4" stroke="#1f77b4" stroke-width="0.35" style="">0</text>
<text transform="translate(338.25,116.13) scale(0.8653,0.9649)" font-size="23.85" fill="#1f77b4" stroke="#1f77b4" stroke-width="0.35" style="">.</text>
<text transform="translate(345.35,116.23) scale(0.9505,0.9895)" font-size="23.85" fill="#1f77b4" stroke="#1f77b4" stroke-width="0.35" style="">0</text>
<text transform="translate(359.38,116.13) scale(0.9122,0.9836)" font-size="23.85" fill="#1f77b4" stroke="#1f77b4" stroke-width="0.35" style="">2</text>
<text transform="translate(380.56,116.13) scale(0.8999,0.9808)" font-size="23.85" fill="#1f77b4" stroke="#1f77b4" stroke-width="0.35" style="">W</text>
<text transform="translate(402.14,116.13) scale(1.0370,0.9568)" font-size="23.85" fill="#1f77b4" stroke="#1f77b4" stroke-width="0.35" style="">m</text>
<text transform="translate(424.24,106.93) scale(1.1565,0.8267)" font-size="16.7" fill="#1f77b4" stroke="#1f77b4" stroke-width="0.35" style="">−</text>
<text transform="translate(437.16,107.13) scale(0.8945,0.9718)" font-size="16.7" fill="#1f77b4" stroke="#1f77b4" stroke-width="0.35" style="">1</text>
<text transform="translate(447.55,116.13) scale(0.9212,0.9808)" font-size="23.85" fill="#1f77b4" stroke="#1f77b4" stroke-width="0.35" style="">K</text>
<text transform="translate(462.44,106.93) scale(1.1507,0.8267)" font-size="16.7" fill="#1f77b4" stroke="#1f77b4" stroke-width="0.35" style="">−</text>
<text transform="translate(475.3,107.13) scale(0.8900,0.9718)" font-size="16.7" fill="#1f77b4" stroke="#1f77b4" stroke-width="0.35" style="">1</text>
<text transform="translate(256.56,202.73) scale(0.9505,0.9895)" font-size="23.85" fill="#ff7f0e" stroke="#ff7f0e" stroke-width="0.35" style="">0</text>
<text transform="translate(270.54,202.63) scale(0.8653,0.9649)" font-size="23.85" fill="#ff7f0e" stroke="#ff7f0e" stroke-width="0.35" style="">.</text>
<text transform="translate(277.96,202.73) scale(0.8939,0.9869)" font-size="23.85" fill="#ff7f0e" stroke="#ff7f0e" stroke-width="0.35" style="">5</text>
<text transform="translate(291.83,202.63) scale(0.9270,0.9808)" font-size="23.85" fill="#ff7f0e" stroke="#ff7f0e" stroke-width="0.35" style="">7</text>
<text transform="translate(306.68,202.63) scale(1.1633,0.9710)" font-size="23.85" fill="#ff7f0e" stroke="#ff7f0e" stroke-width="0.35" style="">±</text>
<text transform="translate(324.27,202.73) scale(0.9505,0.9895)" font-size="23.85" fill="#ff7f0e" stroke="#ff7f0e" stroke-width="0.35" style="">0</text>
<text transform="translate(338.25,202.63) scale(0.8653,0.9649)" font-size="23.85" fill="#ff7f0e" stroke="#ff7f0e" stroke-width="0.35" style="">.</text>
<text transform="translate(345.35,202.73) scale(0.9505,0.9895)" font-size="23.85" fill="#ff7f0e" stroke="#ff7f0e" stroke-width="0.35" style="">0</text>
<text transform="translate(359.38,202.63) scale(0.9122,0.9836)" font-size="23.85" fill="#ff7f0e" stroke="#ff7f0e" stroke-width="0.35" style="">2</text>
<text transform="translate(380.56,202.63) scale(0.8999,0.9808)" font-size="23.85" fill="#ff7f0e" stroke="#ff7f0e" stroke-width="0.35" style="">W</text>
<text transform="translate(402.14,202.63) scale(1.0370,0.9568)" font-size="23.85" fill="#ff7f0e" stroke="#ff7f0e" stroke-width="0.35" style="">m</text>
<text transform="translate(424.24,193.43) scale(1.1565,0.8267)" font-size="16.7" fill="#ff7f0e" stroke="#ff7f0e" stroke-width="0.35" style="">−</text>
<text transform="translate(437.16,193.63) scale(0.8945,0.9718)" font-size="16.7" fill="#ff7f0e" stroke="#ff7f0e" stroke-width="0.35" style="">1</text>
<text transform="translate(447.55,202.63) scale(0.9212,0.9808)" font-size="23.85" fill="#ff7f0e" stroke="#ff7f0e" stroke-width="0.35" style="">K</text>
<text transform="translate(462.44,193.43) scale(1.1507,0.8267)" font-size="16.7" fill="#ff7f0e" stroke="#ff7f0e" stroke-width="0.35" style="">−</text>
<text transform="translate(475.3,193.63) scale(0.8900,0.9718)" font-size="16.7" fill="#ff7f0e" stroke="#ff7f0e" stroke-width="0.35" style="">1</text>
<text transform="translate(256.56,374.93) scale(0.9505,0.9895)" font-size="23.85" fill="#1f77b4" stroke="#1f77b4" stroke-width="0.35" style="">0</text>
<text transform="translate(270.54,374.83) scale(0.8653,0.9649)" font-size="23.85" fill="#1f77b4" stroke="#1f77b4" stroke-width="0.35" style="">.</text>
<text transform="translate(277.96,374.93) scale(0.8939,0.9869)" font-size="23.85" fill="#1f77b4" stroke="#1f77b4" stroke-width="0.35" style="">5</text>
<text transform="translate(291.45,374.93) scale(0.9755,0.9895)" font-size="23.85" fill="#1f77b4" stroke="#1f77b4" stroke-width="0.35" style="">9</text>
<text transform="translate(306.68,374.83) scale(1.1633,0.9710)" font-size="23.85" fill="#1f77b4" stroke="#1f77b4" stroke-width="0.35" style="">±</text>
<text transform="translate(324.27,374.93) scale(0.9505,0.9895)" font-size="23.85" fill="#1f77b4" stroke="#1f77b4" stroke-width="0.35" style="">0</text>
<text transform="translate(338.25,374.83) scale(0.8653,0.9649)" font-size="23.85" fill="#1f77b4" stroke="#1f77b4" stroke-width="0.35" style="">.</text>
<text transform="translate(345.35,374.93) scale(0.9505,0.9895)" font-size="23.85" fill="#1f77b4" stroke="#1f77b4" stroke-width="0.35" style="">0</text>
<text transform="translate(359.53,374.83) scale(0.9270,0.9808)" font-size="23.85" fill="#1f77b4" stroke="#1f77b4" stroke-width="0.35" style="">7</text>
<text transform="translate(380.56,374.83) scale(0.8999,0.9808)" font-size="23.85" fill="#1f77b4" stroke="#1f77b4" stroke-width="0.35" style="">W</text>
<text transform="translate(402.14,374.83) scale(1.0370,0.9568)" font-size="23.85" fill="#1f77b4" stroke="#1f77b4" stroke-width="0.35" style="">m</text>
<text transform="translate(424.24,365.63) scale(1.1565,0.8267)" font-size="16.7" fill="#1f77b4" stroke="#1f77b4" stroke-width="0.35" style="">−</text>
<text transform="translate(437.16,365.83) scale(0.8945,0.9718)" font-size="16.7" fill="#1f77b4" stroke="#1f77b4" stroke-width="0.35" style="">1</text>
<text transform="translate(447.55,374.83) scale(0.9212,0.9808)" font-size="23.85" fill="#1f77b4" stroke="#1f77b4" stroke-width="0.35" style="">K</text>
<text transform="translate(462.44,365.63) scale(1.1507,0.8267)" font-size="16.7" fill="#1f77b4" stroke="#1f77b4" stroke-width="0.35" style="">−</text>
<text transform="translate(475.3,365.83) scale(0.8900,0.9718)" font-size="16.7" fill="#1f77b4" stroke="#1f77b4" stroke-width="0.35" style="">1</text>
<text transform="translate(256.56,461.43) scale(0.9505,0.9895)" font-size="23.85" fill="#ff7f0e" stroke="#ff7f0e" stroke-width="0.35" style="">0</text>
<text transform="translate(270.54,461.33) scale(0.8653,0.9649)" font-size="23.85" fill="#ff7f0e" stroke="#ff7f0e" stroke-width="0.35" style="">.</text>
<text transform="translate(277.96,461.43) scale(0.8939,0.9869)" font-size="23.85" fill="#ff7f0e" stroke="#ff7f0e" stroke-width="0.35" style="">5</text>
<text transform="translate(291.98,461.33) scale(0.9011,0.9808)" font-size="23.85" fill="#ff7f0e" stroke="#ff7f0e" stroke-width="0.35" style="">1</text>
<text transform="translate(306.68,461.33) scale(1.1633,0.9710)" font-size="23.85" fill="#ff7f0e" stroke="#ff7f0e" stroke-width="0.35" style="">±</text>
<text transform="translate(324.27,461.43) scale(0.9505,0.9895)" font-size="23.85" fill="#ff7f0e" stroke="#ff7f0e" stroke-width="0.35" style="">0</text>
<text transform="translate(338.25,461.33) scale(0.8653,0.9649)" font-size="23.85" fill="#ff7f0e" stroke="#ff7f0e" stroke-width="0.35" style="">.</text>
<text transform="translate(345.35,461.43) scale(0.9505,0.9895)" font-size="23.85" fill="#ff7f0e" stroke="#ff7f0e" stroke-width="0.35" style="">0</text>
<text transform="translate(359.26,461.43) scale(0.9755,0.9895)" font-size="23.85" fill="#ff7f0e" stroke="#ff7f0e" stroke-width="0.35" style="">6</text>
<text transform="translate(380.56,461.33) scale(0.8999,0.9808)" font-size="23.85" fill="#ff7f0e" stroke="#ff7f0e" stroke-width="0.35" style="">W</text>
<text transform="translate(402.14,461.33) scale(1.0370,0.9568)" font-size="23.85" fill="#ff7f0e" stroke="#ff7f0e" stroke-width="0.35" style="">m</text>
<text transform="translate(424.24,452.13) scale(1.1565,0.8267)" font-size="16.7" fill="#ff7f0e" stroke="#ff7f0e" stroke-width="0.35" style="">−</text>
<text transform="translate(437.16,452.33) scale(0.8945,0.9718)" font-size="16.7" fill="#ff7f0e" stroke="#ff7f0e" stroke-width="0.35" style="">1</text>
<text transform="translate(447.55,461.33) scale(0.9212,0.9808)" font-size="23.85" fill="#ff7f0e" stroke="#ff7f0e" stroke-width="0.35" style="">K</text>
<text transform="translate(462.44,452.13) scale(1.1507,0.8267)" font-size="16.7" fill="#ff7f0e" stroke="#ff7f0e" stroke-width="0.35" style="">−</text>
<text transform="translate(475.3,452.33) scale(0.8900,0.9718)" font-size="16.7" fill="#ff7f0e" stroke="#ff7f0e" stroke-width="0.35" style="">1</text>
<text transform="translate(256.56,590.73) scale(0.9505,0.9895)" font-size="23.85" fill="#1f77b4" stroke="#1f77b4" stroke-width="0.35" style="">0</text>
<text transform="translate(270.54,590.63) scale(0.8653,0.9649)" font-size="23.85" fill="#1f77b4" stroke="#1f77b4" stroke-width="0.35" style="">.</text>
<text transform="translate(277.63,590.73) scale(0.9557,0.9895)" font-size="23.85" fill="#1f77b4" stroke="#1f77b4" stroke-width="0.35" style="">8</text>
<text transform="translate(291.45,590.73) scale(0.9755,0.9895)" font-size="23.85" fill="#1f77b4" stroke="#1f77b4" stroke-width="0.35" style="">9</text>
<text transform="translate(306.68,590.63) scale(1.1633,0.9710)" font-size="23.85" fill="#1f77b4" stroke="#1f77b4" stroke-width="0.35" style="">±</text>
<text transform="translate(324.27,590.73) scale(0.9505,0.9895)" font-size="23.85" fill="#1f77b4" stroke="#1f77b4" stroke-width="0.35" style="">0</text>
<text transform="translate(338.25,590.63) scale(0.8653,0.9649)" font-size="23.85" fill="#1f77b4" stroke="#1f77b4" stroke-width="0.35" style="">.</text>
<text transform="translate(345.35,590.73) scale(0.9505,0.9895)" font-size="23.85" fill="#1f77b4" stroke="#1f77b4" stroke-width="0.35" style="">0</text>
<text transform="translate(359.73,590.73) scale(0.8939,0.9869)" font-size="23.85" fill="#1f77b4" stroke="#1f77b4" stroke-width="0.35" style="">5</text>
<text transform="translate(380.56,590.63) scale(0.8999,0.9808)" font-size="23.85" fill="#1f77b4" stroke="#1f77b4" stroke-width="0.35" style="">W</text>
<text transform="translate(402.14,590.63) scale(1.0370,0.9568)" font-size="23.85" fill="#1f77b4" stroke="#1f77b4" stroke-width="0.35" style="">m</text>
<text transform="translate(424.24,581.43) scale(1.1565,0.8267)" font-size="16.7" fill="#1f77b4" stroke="#1f77b4" stroke-width="0.35" style="">−</text>
<text transform="translate(437.16,581.63) scale(0.8945,0.9718)" font-size="16.7" fill="#1f77b4" stroke="#1f77b4" stroke-width="0.35" style="">1</text>
<text transform="translate(447.55,590.63) scale(0.9212,0.9808)" font-size="23.85" fill="#1f77b4" stroke="#1f77b4" stroke-width="0.35" style="">K</text>
<text transform="translate(462.44,581.43) scale(1.1507,0.8267)" font-size="16.7" fill="#1f77b4" stroke="#1f77b4" stroke-width="0.35" style="">−</text>
<text transform="translate(475.3,581.63) scale(0.8900,0.9718)" font-size="16.7" fill="#1f77b4" stroke="#1f77b4" stroke-width="0.35" style="">1</text>
<text transform="translate(256.56,676.93) scale(0.9505,0.9895)" font-size="23.85" fill="#ff7f0e" stroke="#ff7f0e" stroke-width="0.35" style="">0</text>
<text transform="translate(270.54,676.83) scale(0.8653,0.9649)" font-size="23.85" fill="#ff7f0e" stroke="#ff7f0e" stroke-width="0.35" style="">.</text>
<text transform="translate(277.77,676.83) scale(0.9270,0.9808)" font-size="23.85" fill="#ff7f0e" stroke="#ff7f0e" stroke-width="0.35" style="">7</text>
<text transform="translate(291.45,676.93) scale(0.9755,0.9895)" font-size="23.85" fill="#ff7f0e" stroke="#ff7f0e" stroke-width="0.35" style="">9</text>
<text transform="translate(306.68,676.83) scale(1.1633,0.9710)" font-size="23.85" fill="#ff7f0e" stroke="#ff7f0e" stroke-width="0.35" style="">±</text>
<text transform="translate(324.27,676.93) scale(0.9505,0.9895)" font-size="23.85" fill="#ff7f0e" stroke="#ff7f0e" stroke-width="0.35" style="">0</text>
<text transform="translate(338.25,676.83) scale(0.8653,0.9649)" font-size="23.85" fill="#ff7f0e" stroke="#ff7f0e" stroke-width="0.35" style="">.</text>
<text transform="translate(345.35,676.93) scale(0.9505,0.9895)" font-size="23.85" fill="#ff7f0e" stroke="#ff7f0e" stroke-width="0.35" style="">0</text>
<text transform="translate(359.69,676.83) scale(0.9011,0.9808)" font-size="23.85" fill="#ff7f0e" stroke="#ff7f0e" stroke-width="0.35" style="">1</text>
<text transform="translate(380.56,676.83) scale(0.8999,0.9808)" font-size="23.85" fill="#ff7f0e" stroke="#ff7f0e" stroke-width="0.35" style="">W</text>
<text transform="translate(402.14,676.83) scale(1.0370,0.9568)" font-size="23.85" fill="#ff7f0e" stroke="#ff7f0e" stroke-width="0.35" style="">m</text>
<text transform="translate(424.24,667.63) scale(1.1565,0.8267)" font-size="16.7" fill="#ff7f0e" stroke="#ff7f0e" stroke-width="0.35" style="">−</text>
<text transform="translate(437.16,667.83) scale(0.8945,0.9718)" font-size="16.7" fill="#ff7f0e" stroke="#ff7f0e" stroke-width="0.35" style="">1</text>
<text transform="translate(447.55,676.83) scale(0.9212,0.9808)" font-size="23.85" fill="#ff7f0e" stroke="#ff7f0e" stroke-width="0.35" style="">K</text>
<text transform="translate(462.44,667.63) scale(1.1507,0.8267)" font-size="16.7" fill="#ff7f0e" stroke="#ff7f0e" stroke-width="0.35" style="">−</text>
<text transform="translate(475.3,667.83) scale(0.8900,0.9718)" font-size="16.7" fill="#ff7f0e" stroke="#ff7f0e" stroke-width="0.35" style="">1</text>
<line x1="181.3" y1="224.9" x2="225.8" y2="224.9" stroke="#1f77b4" stroke-width="3.0" stroke-linecap="square"/>
<line x1="181.3" y1="257.3" x2="225.8" y2="257.3" stroke="#ff7f0e" stroke-width="3.0" stroke-dasharray="10.2 4.4"/>
<text transform="translate(243.17,232.73) scale(0.9101,0.9808)" font-size="23.85" fill="#000" stroke="#000" stroke-width="0.35" style="">M</text>
<text transform="translate(262.13,232.83) scale(0.9005,0.9895)" font-size="23.85" fill="#000" stroke="#000" stroke-width="0.35" style="">O</text>
<text transform="translate(280.01,232.73) scale(0.7779,0.9808)" font-size="23.85" fill="#000" stroke="#000" stroke-width="0.35" style="">F</text>
<text transform="translate(292.25,231.9) scale(0.9494,0.8177)" font-size="23.85" fill="#000" stroke="#000" stroke-width="0.35" style="">-</text>
<text transform="translate(301.02,232.83) scale(0.8975,0.9869)" font-size="23.85" fill="#000" stroke="#000" stroke-width="0.35" style="">5</text>
<text transform="translate(313.51,232.57) scale(1.1810,0.9068)" font-size="23.85" fill="#000" stroke="#000" stroke-width="0.35" style="">,</text>
<text transform="translate(328.77,232.73) scale(0.8981,0.9808)" font-size="23.85" fill="#000" stroke="#000" stroke-width="0.35" style="">N</text>
<text transform="translate(345.57,232.73) scale(0.7846,0.9808)" font-size="23.85" fill="#000" stroke="#000" stroke-width="0.35" style="">E</text>
<text transform="translate(359.55,232.73) scale(0.8032,0.9808)" font-size="23.85" fill="#000" stroke="#000" stroke-width="0.35" style="">P</text>
<text transform="translate(243.17,265.13) scale(0.9102,0.9808)" font-size="23.85" fill="#000" stroke="#000" stroke-width="0.35" style="">M</text>
<text transform="translate(262.14,265.23) scale(0.9006,0.9895)" font-size="23.85" fill="#000" stroke="#000" stroke-width="0.35" style="">O</text>
<text transform="translate(280.01,265.13) scale(0.7780,0.9808)" font-size="23.85" fill="#000" stroke="#000" stroke-width="0.35" style="">F</text>
<text transform="translate(292.26,264.3) scale(0.9495,0.8177)" font-size="23.85" fill="#000" stroke="#000" stroke-width="0.35" style="">-</text>
<text transform="translate(301.03,265.23) scale(0.8976,0.9869)" font-size="23.85" fill="#000" stroke="#000" stroke-width="0.35" style="">5</text>
<text transform="translate(313.51,264.97) scale(1.1811,0.9068)" font-size="23.85" fill="#000" stroke="#000" stroke-width="0.35" style="">,</text>
<text transform="translate(328.78,265.13) scale(0.8982,0.9808)" font-size="23.85" fill="#000" stroke="#000" stroke-width="0.35" style="">N</text>
<text transform="translate(345.58,265.13) scale(0.7847,0.9808)" font-size="23.85" fill="#000" stroke="#000" stroke-width="0.35" style="">E</text>
<text transform="translate(359.56,265.13) scale(0.8033,0.9808)" font-size="23.85" fill="#000" stroke="#000" stroke-width="0.35" style="">P</text>
<text transform="translate(372.48,264.3) scale(0.9495,0.8177)" font-size="23.85" fill="#000" stroke="#000" stroke-width="0.35" style="">-</text>
<text transform="translate(380.22,265.13) scale(0.9384,0.9808)" font-size="23.85" fill="#000" stroke="#000" stroke-width="0.35" style="">D</text>
<text transform="translate(397.83,265.23) scale(0.9118,0.9895)" font-size="23.85" fill="#000" stroke="#000" stroke-width="0.35" style="">3</text>
<line x1="189" y1="483.7" x2="233.5" y2="483.7" stroke="#1f77b4" stroke-width="3.0" stroke-linecap="square"/>
<line x1="189" y1="516.2" x2="233.5" y2="516.2" stroke="#ff7f0e" stroke-width="3.0" stroke-dasharray="10.2 4.4"/>
<text transform="translate(251.11,491.53) scale(0.9844,0.9808)" font-size="23.85" fill="#000" stroke="#000" stroke-width="0.35" style="">Z</text>
<text transform="translate(266.3,491.53) scale(0.8673,0.9808)" font-size="23.85" fill="#000" stroke="#000" stroke-width="0.35" style="">I</text>
<text transform="translate(273.21,491.53) scale(0.7779,0.9808)" font-size="23.85" fill="#000" stroke="#000" stroke-width="0.35" style="">F</text>
<text transform="translate(285.46,490.7) scale(0.9493,0.8177)" font-size="23.85" fill="#000" stroke="#000" stroke-width="0.35" style="">-</text>
<text transform="translate(293.9,491.63) scale(0.9595,0.9895)" font-size="23.85" fill="#000" stroke="#000" stroke-width="0.35" style="">8</text>
<text transform="translate(306.71,491.37) scale(1.1809,0.9068)" font-size="23.85" fill="#000" stroke="#000" stroke-width="0.35" style="">,</text>
<text transform="translate(321.98,491.53) scale(0.8981,0.9808)" font-size="23.85" fill="#000" stroke="#000" stroke-width="0.35" style="">N</text>
<text transform="translate(338.77,491.53) scale(0.7846,0.9808)" font-size="23.85" fill="#000" stroke="#000" stroke-width="0.35" style="">E</text>
<text transform="translate(352.76,491.53) scale(0.8032,0.9808)" font-size="23.85" fill="#000" stroke="#000" stroke-width="0.35" style="">P</text>
<text transform="translate(251.11,524.03) scale(0.9845,0.9808)" font-size="23.85" fill="#000" stroke="#000" stroke-width="0.35" style="">Z</text>
<text transform="translate(266.3,524.03) scale(0.8674,0.9808)" font-size="23.85" fill="#000" stroke="#000" stroke-width="0.35" style="">I</text>
<text transform="translate(273.21,524.03) scale(0.7780,0.9808)" font-size="23.85" fill="#000" stroke="#000" stroke-width="0.35" style="">F</text>
<text transform="translate(285.46,523.2) scale(0.9494,0.8177)" font-size="23.85" fill="#000" stroke="#000" stroke-width="0.35" style="">-</text>
<text transform="translate(293.9,524.13) scale(0.9596,0.9895)" font-size="23.85" fill="#000" stroke="#000" stroke-width="0.35" style="">8</text>
<text transform="translate(306.72,523.87) scale(1.1811,0.9068)" font-size="23.85" fill="#000" stroke="#000" stroke-width="0.35" style="">,</text>
<text transform="translate(321.98,524.03) scale(0.8982,0.9808)" font-size="23.85" fill="#000" stroke="#000" stroke-width="0.35" style="">N</text>
<text transform="translate(338.78,524.03) scale(0.7847,0.9808)" font-size="23.85" fill="#000" stroke="#000" stroke-width="0.35" style="">E</text>
<text transform="translate(352.77,524.03) scale(0.8032,0.9808)" font-size="23.85" fill="#000" stroke="#000" stroke-width="0.35" style="">P</text>
<text transform="translate(365.68,523.2) scale(0.9494,0.8177)" font-size="23.85" fill="#000" stroke="#000" stroke-width="0.35" style="">-</text>
<text transform="translate(373.42,524.03) scale(0.9384,0.9808)" font-size="23.85" fill="#000" stroke="#000" stroke-width="0.35" style="">D</text>
<text transform="translate(391.03,524.13) scale(0.9118,0.9895)" font-size="23.85" fill="#000" stroke="#000" stroke-width="0.35" style="">3</text>
<line x1="170.2" y1="742.6" x2="214.6" y2="742.6" stroke="#1f77b4" stroke-width="3.0" stroke-linecap="square"/>
<line x1="170.2" y1="775" x2="214.6" y2="775" stroke="#ff7f0e" stroke-width="3.0" stroke-dasharray="10.2 4.4"/>
<text transform="translate(232.08,750.43) scale(0.9064,0.9808)" font-size="23.85" fill="#000" stroke="#000" stroke-width="0.35" style="">H</text>
<text transform="translate(248.74,750.43) scale(0.9149,0.9808)" font-size="23.85" fill="#000" stroke="#000" stroke-width="0.35" style="">K</text>
<text transform="translate(263.22,750.53) scale(0.8908,0.9869)" font-size="23.85" fill="#000" stroke="#000" stroke-width="0.35" style="">U</text>
<text transform="translate(279.13,750.53) scale(0.8125,0.9895)" font-size="23.85" fill="#000" stroke="#000" stroke-width="0.35" style="">S</text>
<text transform="translate(292.08,750.43) scale(0.9910,0.9808)" font-size="23.85" fill="#000" stroke="#000" stroke-width="0.35" style="">T</text>
<text transform="translate(306.31,749.6) scale(0.9495,0.8177)" font-size="23.85" fill="#000" stroke="#000" stroke-width="0.35" style="">-</text>
<text transform="translate(313,750.43) scale(0.9049,0.9808)" font-size="23.85" fill="#000" stroke="#000" stroke-width="0.35" style="">1</text>
<text transform="translate(325.53,750.27) scale(1.1811,0.9068)" font-size="23.85" fill="#000" stroke="#000" stroke-width="0.35" style="">,</text>
<text transform="translate(340.8,750.43) scale(0.8983,0.9808)" font-size="23.85" fill="#000" stroke="#000" stroke-width="0.35" style="">N</text>
<text transform="translate(357.6,750.43) scale(0.7847,0.9808)" font-size="23.85" fill="#000" stroke="#000" stroke-width="0.35" style="">E</text>
<text transform="translate(371.58,750.43) scale(0.8033,0.9808)" font-size="23.85" fill="#000" stroke="#000" stroke-width="0.35" style="">P</text>
<text transform="translate(232.08,782.83) scale(0.9064,0.9808)" font-size="23.85" fill="#000" stroke="#000" stroke-width="0.35" style="">H</text>
<text transform="translate(248.74,782.83) scale(0.9150,0.9808)" font-size="23.85" fill="#000" stroke="#000" stroke-width="0.35" style="">K</text>
<text transform="translate(263.22,782.93) scale(0.8909,0.9869)" font-size="23.85" fill="#000" stroke="#000" stroke-width="0.35" style="">U</text>
<text transform="translate(279.13,782.93) scale(0.8125,0.9895)" font-size="23.85" fill="#000" stroke="#000" stroke-width="0.35" style="">S</text>
<text transform="translate(292.09,782.83) scale(0.9910,0.9808)" font-size="23.85" fill="#000" stroke="#000" stroke-width="0.35" style="">T</text>
<text transform="translate(306.31,782) scale(0.9496,0.8177)" font-size="23.85" fill="#000" stroke="#000" stroke-width="0.35" style="">-</text>
<text transform="translate(313,782.83) scale(0.9050,0.9808)" font-size="23.85" fill="#000" stroke="#000" stroke-width="0.35" style="">1</text>
<text transform="translate(325.53,782.67) scale(1.1812,0.9068)" font-size="23.85" fill="#000" stroke="#000" stroke-width="0.35" style="">,</text>
<text transform="translate(340.8,782.83) scale(0.8983,0.9808)" font-size="23.85" fill="#000" stroke="#000" stroke-width="0.35" style="">N</text>
<text transform="translate(357.6,782.83) scale(0.7847,0.9808)" font-size="23.85" fill="#000" stroke="#000" stroke-width="0.35" style="">E</text>
<text transform="translate(371.59,782.83) scale(0.8033,0.9808)" font-size="23.85" fill="#000" stroke="#000" stroke-width="0.35" style="">P</text>
<text transform="translate(384.5,782) scale(0.9496,0.8177)" font-size="23.85" fill="#000" stroke="#000" stroke-width="0.35" style="">-</text>
<text transform="translate(392.24,782.83) scale(0.9385,0.9808)" font-size="23.85" fill="#000" stroke="#000" stroke-width="0.35" style="">D</text>
<text transform="translate(409.86,782.93) scale(0.9119,0.9895)" font-size="23.85" fill="#000" stroke="#000" stroke-width="0.35" style="">3</text>
<line x1="770" y1="59.6" x2="814.5" y2="59.6" stroke="#1f77b4" stroke-width="3.0" stroke-linecap="square"/>
<line x1="770" y1="92.2" x2="814.5" y2="92.2" stroke="#ff7f0e" stroke-width="3.0" stroke-dasharray="10.2 4.4"/>
<text transform="translate(831.93,67.43) scale(0.9101,0.9808)" font-size="23.85" fill="#000" stroke="#000" stroke-width="0.35" style="">M</text>
<text transform="translate(850.9,67.53) scale(0.9005,0.9895)" font-size="23.85" fill="#000" stroke="#000" stroke-width="0.35" style="">O</text>
<text transform="translate(868.77,67.43) scale(0.7779,0.9808)" font-size="23.85" fill="#000" stroke="#000" stroke-width="0.35" style="">F</text>
<text transform="translate(881.02,66.6) scale(0.9494,0.8177)" font-size="23.85" fill="#000" stroke="#000" stroke-width="0.35" style="">-</text>
<text transform="translate(889.79,67.53) scale(0.8975,0.9869)" font-size="23.85" fill="#000" stroke="#000" stroke-width="0.35" style="">5</text>
<text transform="translate(902.27,67.27) scale(1.1810,0.9068)" font-size="23.85" fill="#000" stroke="#000" stroke-width="0.35" style="">,</text>
<text transform="translate(917.54,67.43) scale(0.8981,0.9808)" font-size="23.85" fill="#000" stroke="#000" stroke-width="0.35" style="">N</text>
<text transform="translate(934.34,67.43) scale(0.7846,0.9808)" font-size="23.85" fill="#000" stroke="#000" stroke-width="0.35" style="">E</text>
<text transform="translate(948.32,67.43) scale(0.8032,0.9808)" font-size="23.85" fill="#000" stroke="#000" stroke-width="0.35" style="">P</text>
<text transform="translate(831.93,100.03) scale(0.9102,0.9808)" font-size="23.85" fill="#000" stroke="#000" stroke-width="0.35" style="">M</text>
<text transform="translate(850.9,100.13) scale(0.9006,0.9895)" font-size="23.85" fill="#000" stroke="#000" stroke-width="0.35" style="">O</text>
<text transform="translate(868.77,100.03) scale(0.7780,0.9808)" font-size="23.85" fill="#000" stroke="#000" stroke-width="0.35" style="">F</text>
<text transform="translate(881.02,99.2) scale(0.9495,0.8177)" font-size="23.85" fill="#000" stroke="#000" stroke-width="0.35" style="">-</text>
<text transform="translate(889.79,100.13) scale(0.8976,0.9869)" font-size="23.85" fill="#000" stroke="#000" stroke-width="0.35" style="">5</text>
<text transform="translate(902.28,99.87) scale(1.1811,0.9068)" font-size="23.85" fill="#000" stroke="#000" stroke-width="0.35" style="">,</text>
<text transform="translate(917.55,100.03) scale(0.8982,0.9808)" font-size="23.85" fill="#000" stroke="#000" stroke-width="0.35" style="">N</text>
<text transform="translate(934.34,100.03) scale(0.7847,0.9808)" font-size="23.85" fill="#000" stroke="#000" stroke-width="0.35" style="">E</text>
<text transform="translate(948.33,100.03) scale(0.8033,0.9808)" font-size="23.85" fill="#000" stroke="#000" stroke-width="0.35" style="">P</text>
<text transform="translate(961.24,99.2) scale(0.9495,0.8177)" font-size="23.85" fill="#000" stroke="#000" stroke-width="0.35" style="">-</text>
<text transform="translate(968.98,100.03) scale(0.9384,0.9808)" font-size="23.85" fill="#000" stroke="#000" stroke-width="0.35" style="">D</text>
<text transform="translate(986.6,100.13) scale(0.9118,0.9895)" font-size="23.85" fill="#000" stroke="#000" stroke-width="0.35" style="">3</text>
<line x1="784.6" y1="318.3" x2="829.1" y2="318.3" stroke="#1f77b4" stroke-width="3.0" stroke-linecap="square"/>
<line x1="784.6" y1="350.7" x2="829.1" y2="350.7" stroke="#ff7f0e" stroke-width="3.0" stroke-dasharray="10.2 4.4"/>
<text transform="translate(846.57,326.13) scale(0.9844,0.9808)" font-size="23.85" fill="#000" stroke="#000" stroke-width="0.35" style="">Z</text>
<text transform="translate(861.76,326.13) scale(0.8673,0.9808)" font-size="23.85" fill="#000" stroke="#000" stroke-width="0.35" style="">I</text>
<text transform="translate(868.67,326.13) scale(0.7779,0.9808)" font-size="23.85" fill="#000" stroke="#000" stroke-width="0.35" style="">F</text>
<text transform="translate(880.92,325.3) scale(0.9493,0.8177)" font-size="23.85" fill="#000" stroke="#000" stroke-width="0.35" style="">-</text>
<text transform="translate(889.36,326.23) scale(0.9595,0.9895)" font-size="23.85" fill="#000" stroke="#000" stroke-width="0.35" style="">8</text>
<text transform="translate(902.17,325.97) scale(1.1809,0.9068)" font-size="23.85" fill="#000" stroke="#000" stroke-width="0.35" style="">,</text>
<text transform="translate(917.44,326.13) scale(0.8981,0.9808)" font-size="23.85" fill="#000" stroke="#000" stroke-width="0.35" style="">N</text>
<text transform="translate(934.24,326.13) scale(0.7846,0.9808)" font-size="23.85" fill="#000" stroke="#000" stroke-width="0.35" style="">E</text>
<text transform="translate(948.22,326.13) scale(0.8032,0.9808)" font-size="23.85" fill="#000" stroke="#000" stroke-width="0.35" style="">P</text>
<text transform="translate(846.57,358.53) scale(0.9845,0.9808)" font-size="23.85" fill="#000" stroke="#000" stroke-width="0.35" style="">Z</text>
<text transform="translate(861.77,358.53) scale(0.8674,0.9808)" font-size="23.85" fill="#000" stroke="#000" stroke-width="0.35" style="">I</text>
<text transform="translate(868.68,358.53) scale(0.7780,0.9808)" font-size="23.85" fill="#000" stroke="#000" stroke-width="0.35" style="">F</text>
<text transform="translate(880.92,357.7) scale(0.9494,0.8177)" font-size="23.85" fill="#000" stroke="#000" stroke-width="0.35" style="">-</text>
<text transform="translate(889.37,358.63) scale(0.9596,0.9895)" font-size="23.85" fill="#000" stroke="#000" stroke-width="0.35" style="">8</text>
<text transform="translate(902.18,358.37) scale(1.1811,0.9068)" font-size="23.85" fill="#000" stroke="#000" stroke-width="0.35" style="">,</text>
<text transform="translate(917.45,358.53) scale(0.8982,0.9808)" font-size="23.85" fill="#000" stroke="#000" stroke-width="0.35" style="">N</text>
<text transform="translate(934.25,358.53) scale(0.7847,0.9808)" font-size="23.85" fill="#000" stroke="#000" stroke-width="0.35" style="">E</text>
<text transform="translate(948.23,358.53) scale(0.8032,0.9808)" font-size="23.85" fill="#000" stroke="#000" stroke-width="0.35" style="">P</text>
<text transform="translate(961.14,357.7) scale(0.9494,0.8177)" font-size="23.85" fill="#000" stroke="#000" stroke-width="0.35" style="">-</text>
<text transform="translate(968.88,358.53) scale(0.9384,0.9808)" font-size="23.85" fill="#000" stroke="#000" stroke-width="0.35" style="">D</text>
<text transform="translate(986.5,358.63) scale(0.9118,0.9895)" font-size="23.85" fill="#000" stroke="#000" stroke-width="0.35" style="">3</text>
<line x1="747.2" y1="576.9" x2="791.7" y2="576.9" stroke="#1f77b4" stroke-width="3.0" stroke-linecap="square"/>
<line x1="747.2" y1="609.6" x2="791.7" y2="609.6" stroke="#ff7f0e" stroke-width="3.0" stroke-dasharray="10.2 4.4"/>
<text transform="translate(808.41,584.73) scale(0.9064,0.9808)" font-size="23.85" fill="#000" stroke="#000" stroke-width="0.35" style="">H</text>
<text transform="translate(825.08,584.73) scale(0.9149,0.9808)" font-size="23.85" fill="#000" stroke="#000" stroke-width="0.35" style="">K</text>
<text transform="translate(839.56,584.83) scale(0.8908,0.9869)" font-size="23.85" fill="#000" stroke="#000" stroke-width="0.35" style="">U</text>
<text transform="translate(855.46,584.83) scale(0.8125,0.9895)" font-size="23.85" fill="#000" stroke="#000" stroke-width="0.35" style="">S</text>
<text transform="translate(868.42,584.73) scale(0.9910,0.9808)" font-size="23.85" fill="#000" stroke="#000" stroke-width="0.35" style="">T</text>
<text transform="translate(882.64,583.9) scale(0.9495,0.8177)" font-size="23.85" fill="#000" stroke="#000" stroke-width="0.35" style="">-</text>
<text transform="translate(889.34,584.73) scale(0.9049,0.9808)" font-size="23.85" fill="#000" stroke="#000" stroke-width="0.35" style="">1</text>
<text transform="translate(901.86,584.57) scale(1.1811,0.9068)" font-size="23.85" fill="#000" stroke="#000" stroke-width="0.35" style="">,</text>
<text transform="translate(917.13,584.73) scale(0.8983,0.9808)" font-size="23.85" fill="#000" stroke="#000" stroke-width="0.35" style="">N</text>
<text transform="translate(933.93,584.73) scale(0.7847,0.9808)" font-size="23.85" fill="#000" stroke="#000" stroke-width="0.35" style="">E</text>
<text transform="translate(947.92,584.73) scale(0.8033,0.9808)" font-size="23.85" fill="#000" stroke="#000" stroke-width="0.35" style="">P</text>
<text transform="translate(808.41,617.43) scale(0.9064,0.9808)" font-size="23.85" fill="#000" stroke="#000" stroke-width="0.35" style="">H</text>
<text transform="translate(825.08,617.43) scale(0.9150,0.9808)" font-size="23.85" fill="#000" stroke="#000" stroke-width="0.35" style="">K</text>
<text transform="translate(839.56,617.53) scale(0.8909,0.9869)" font-size="23.85" fill="#000" stroke="#000" stroke-width="0.35" style="">U</text>
<text transform="translate(855.47,617.53) scale(0.8125,0.9895)" font-size="23.85" fill="#000" stroke="#000" stroke-width="0.35" style="">S</text>
<text transform="translate(868.42,617.43) scale(0.9910,0.9808)" font-size="23.85" fill="#000" stroke="#000" stroke-width="0.35" style="">T</text>
<text transform="translate(882.65,616.6) scale(0.9496,0.8177)" font-size="23.85" fill="#000" stroke="#000" stroke-width="0.35" style="">-</text>
<text transform="translate(889.34,617.43) scale(0.9050,0.9808)" font-size="23.85" fill="#000" stroke="#000" stroke-width="0.35" style="">1</text>
<text transform="translate(901.87,617.27) scale(1.1812,0.9068)" font-size="23.85" fill="#000" stroke="#000" stroke-width="0.35" style="">,</text>
<text transform="translate(917.14,617.43) scale(0.8983,0.9808)" font-size="23.85" fill="#000" stroke="#000" stroke-width="0.35" style="">N</text>
<text transform="translate(933.94,617.43) scale(0.7847,0.9808)" font-size="23.85" fill="#000" stroke="#000" stroke-width="0.35" style="">E</text>
<text transform="translate(947.92,617.43) scale(0.8033,0.9808)" font-size="23.85" fill="#000" stroke="#000" stroke-width="0.35" style="">P</text>
<text transform="translate(960.84,616.6) scale(0.9496,0.8177)" font-size="23.85" fill="#000" stroke="#000" stroke-width="0.35" style="">-</text>
<text transform="translate(968.58,617.43) scale(0.9385,0.9808)" font-size="23.85" fill="#000" stroke="#000" stroke-width="0.35" style="">D</text>
<text transform="translate(986.19,617.53) scale(0.9119,0.9895)" font-size="23.85" fill="#000" stroke="#000" stroke-width="0.35" style="">3</text>
</g></svg>
</body></html>
